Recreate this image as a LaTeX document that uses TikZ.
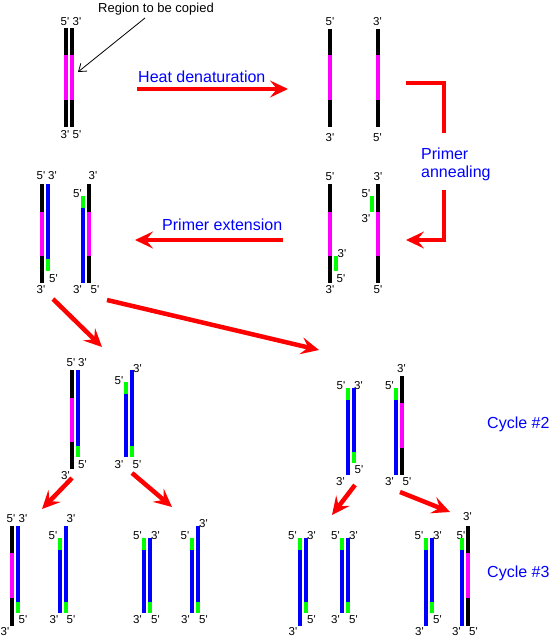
\documentclass[tikz,border=0pt]{standalone}
\usepackage{fontspec}
\setmainfont{Liberation Sans}
\usetikzlibrary{arrows.meta}
\definecolor{pgreen}{RGB}{0,255,0}
\definecolor{pmag}{RGB}{255,0,255}
\definecolor{pblue}{RGB}{0,0,255}
\definecolor{pred}{RGB}{255,0,0}
\newcommand\pr{\textquotesingle}
\newcommand\sg[4]{\draw[strand,#4] (#1,#2) -- (#1,#3);}
\newcommand\lb[4]{\node[lbl] (#1) at (#2,#3) {#4};}
\begin{document}
\begin{tikzpicture}[x=1pt,y=-1pt,
  strand/.style={line width=4pt},
  lbl/.style={anchor=base,inner sep=0pt,font=\fontsize{11.5}{12}\selectfont},
  blab/.style={anchor=base west,inner sep=0pt,text=pblue,font=\fontsize{16}{18}\selectfont},
  redline/.style={draw=pred,line width=4.5pt,line join=miter},
  redarrow/.style={redline,-{Stealth[length=18pt,width=17pt,inset=7pt]}},
  thinarrow/.style={draw=black,line width=0.8pt,-{Straight Barb[length=7pt,width=10pt]}},
]
\useasboundingbox (0,0) rectangle (550,640);

% ---- texts
\node[anchor=base,inner sep=0pt,font=\fontsize{13}{15}\selectfont] (region) at (156,12) {Region to be copied};
\node[blab] (heat) at (138,82) {Heat denaturation};
\node[blab] (pa1) at (421,159) {Primer};
\node[blab] (pa2) at (421,177) {annealing};
\node[blab] (pext) at (162,230) {Primer extension};
\node[blab] (cyc2) at (487,428) {Cycle \#2};
\node[blab] (cyc3) at (487,577) {Cycle \#3};

% ---- end labels
% top-left
\lb{a1}{65}{25}{5\pr}\lb{a2}{77}{25}{3\pr}\lb{a3}{65}{138}{3\pr}\lb{a4}{77}{138}{5\pr}
% top-right
\lb{b1}{330}{25}{5\pr}\lb{b2}{377.5}{25}{3\pr}\lb{b3}{330}{141}{3\pr}\lb{b4}{377.5}{141}{5\pr}
% middle-right
\lb{c1}{330}{180}{5\pr}\lb{c2}{342}{257}{3\pr}\lb{c3}{341}{282}{5\pr}\lb{c4}{330}{293}{3\pr}
\lb{c5}{378}{180}{3\pr}\lb{c6}{366}{197}{5\pr}\lb{c7}{366}{222}{3\pr}\lb{c8}{378}{293}{5\pr}
% middle-left
\lb{d1}{41}{179}{5\pr}\lb{d2}{52.5}{179}{3\pr}\lb{d3}{53.5}{282}{5\pr}\lb{d4}{41}{293}{3\pr}
\lb{d5}{93}{179}{3\pr}\lb{d6}{77.5}{197}{5\pr}\lb{d7}{77.5}{293}{3\pr}\lb{d8}{95}{293}{5\pr}
% cycle 2
\lb{e1}{71}{366}{5\pr}\lb{e2}{82.5}{366}{3\pr}\lb{e3}{82.5}{468}{5\pr}\lb{e4}{65.5}{479}{3\pr}
\lb{f1}{137.5}{372}{3\pr}\lb{f2}{119}{384}{5\pr}\lb{f3}{119}{468}{3\pr}\lb{f4}{137}{468}{5\pr}
\lb{g1}{341}{389}{5\pr}\lb{g2}{358.5}{389}{3\pr}\lb{g3}{359}{473}{5\pr}\lb{g4}{340.5}{485}{3\pr}
\lb{h1}{401.5}{372}{3\pr}\lb{h2}{389.5}{389}{5\pr}\lb{h3}{389.5}{485}{3\pr}\lb{h4}{407}{485}{5\pr}
% cycle 3
\lb{i1}{11}{522}{5\pr}\lb{i2}{23}{522}{3\pr}\lb{i3}{23}{623}{5\pr}\lb{i4}{5}{635}{3\pr}
\lb{j1}{71}{522}{3\pr}\lb{j2}{53}{539}{5\pr}\lb{j3}{54}{623}{3\pr}\lb{j4}{71}{623}{5\pr}
\lb{k1}{137.5}{539}{5\pr}\lb{k2}{155.5}{539}{3\pr}\lb{k3}{137.5}{623}{3\pr}\lb{k4}{155.5}{623}{5\pr}
\lb{l1}{185}{539}{5\pr}\lb{l2}{203.5}{527}{3\pr}\lb{l3}{185.5}{623}{3\pr}\lb{l4}{203.5}{623}{5\pr}
\lb{m1}{292.5}{539}{5\pr}\lb{m2}{311.5}{539}{3\pr}\lb{m3}{311.5}{623}{5\pr}\lb{m4}{293}{635}{3\pr}
\lb{n1}{335.5}{539}{5\pr}\lb{n2}{353.5}{539}{3\pr}\lb{n3}{335.5}{623}{3\pr}\lb{n4}{353.5}{623}{5\pr}
\lb{o1}{419}{539}{5\pr}\lb{o2}{437.5}{539}{3\pr}\lb{o3}{437.5}{623}{5\pr}\lb{o4}{419.5}{635}{3\pr}
\lb{p1}{467.5}{520}{3\pr}\lb{p2}{461}{539}{5\pr}\lb{p3}{456.5}{635}{3\pr}\lb{p4}{473.5}{635}{5\pr}

% ---- strands
% top-left duplex
\foreach \x in {66,72} {\sg{\x}{28}{55}{black}\sg{\x}{55}{100}{pmag}\sg{\x}{100}{127}{black}}
% top-right single strands
\foreach \x in {330,378} {\sg{\x}{29}{55}{black}\sg{\x}{55}{100}{pmag}\sg{\x}{100}{127}{black}}
% middle-right with primers
\foreach \x in {330,378} {\sg{\x}{184}{212}{black}\sg{\x}{212}{256}{pmag}\sg{\x}{256}{283}{black}}
\sg{336}{256}{271}{pgreen}
\sg{372}{196}{212}{pgreen}
% middle-left after extension
\foreach \x in {42,89} {\sg{\x}{184}{212}{black}\sg{\x}{212}{256}{pmag}\sg{\x}{256}{283}{black}}
\sg{48}{184}{259}{pblue}\sg{48}{259}{271}{pgreen}
\sg{83}{196}{208}{pgreen}\sg{83}{208}{283}{pblue}
% cycle 2
\sg{72}{370}{398}{black}\sg{72}{398}{442}{pmag}\sg{72}{442}{469}{black}
\sg{78}{370}{446}{pblue}\sg{78}{446}{457}{pgreen}
\sg{126}{382}{394}{pgreen}\sg{126}{394}{457}{pblue}
\sg{132}{370}{446}{pblue}\sg{132}{446}{457}{pgreen}
\sg{348}{388}{400}{pgreen}\sg{348}{400}{475}{pblue}
\sg{354}{388}{452}{pblue}\sg{354}{452}{463}{pgreen}
\sg{396}{388}{400}{pgreen}\sg{396}{400}{475}{pblue}
\sg{402}{376}{403}{black}\sg{402}{403}{448}{pmag}\sg{402}{448}{475}{black}
% cycle 3
\sg{12}{526}{553}{black}\sg{12}{553}{598}{pmag}\sg{12}{598}{626}{black}
\sg{18}{526}{602}{pblue}\sg{18}{602}{613}{pgreen}
\sg{60}{538}{550}{pgreen}\sg{60}{550}{613}{pblue}
\sg{66}{526}{602}{pblue}\sg{66}{602}{613}{pgreen}
\sg{144}{538}{550}{pgreen}\sg{144}{550}{613}{pblue}
\sg{150}{538}{602}{pblue}\sg{150}{602}{613}{pgreen}
\sg{192}{538}{550}{pgreen}\sg{192}{550}{613}{pblue}
\sg{198}{526}{602}{pblue}\sg{198}{602}{613}{pgreen}
\sg{300}{538}{550}{pgreen}\sg{300}{550}{626}{pblue}
\sg{306}{538}{602}{pblue}\sg{306}{602}{613}{pgreen}
\sg{342}{538}{550}{pgreen}\sg{342}{550}{613}{pblue}
\sg{348}{538}{602}{pblue}\sg{348}{602}{613}{pgreen}
\sg{426}{538}{550}{pgreen}\sg{426}{550}{626}{pblue}
\sg{432}{538}{602}{pblue}\sg{432}{602}{613}{pgreen}
\sg{462}{538}{550}{pgreen}\sg{462}{550}{626}{pblue}
\sg{468}{526}{553}{black}\sg{468}{553}{598}{pmag}\sg{468}{598}{626}{black}

% ---- arrows
\coordinate (rgS) at (145,18); \coordinate (rgT) at (78,72);
\draw[thinarrow] (rgS) -- (rgT);
\coordinate (hdS) at (137,89); \coordinate (hdT) at (288,89);
\draw[redarrow] (hdS) -- (hdT);
\coordinate (paS) at (406,83); \coordinate (paC1) at (444,83);
\coordinate (paE1) at (444,133); \coordinate (paE2) at (444,190);
\coordinate (paC2) at (444,240); \coordinate (paT) at (406,240);
\draw[redline] (paS) -- (paC1) -- (paE1);
\draw[redarrow] (paE2) -- (paC2) -- (paT);
\coordinate (peS) at (283,240); \coordinate (peT) at (135,240);
\draw[redarrow] (peS) -- (peT);
\coordinate (x1S) at (53,299); \coordinate (x1T) at (102,347);
\draw[redarrow] (x1S) -- (x1T);
\coordinate (x2S) at (107,300); \coordinate (x2T) at (319,350);
\draw[redarrow] (x2S) -- (x2T);
\coordinate (y1S) at (72,478); \coordinate (y1T) at (42,509);
\draw[redarrow] (y1S) -- (y1T);
\coordinate (y2S) at (132,473); \coordinate (y2T) at (172,507);
\draw[redarrow] (y2S) -- (y2T);
\coordinate (y3S) at (355,485); \coordinate (y3T) at (332,515);
\draw[redarrow] (y3S) -- (y3T);
\coordinate (y4S) at (400,492); \coordinate (y4T) at (450,512);
\draw[redarrow] (y4S) -- (y4T);
\end{tikzpicture}
\end{document}
